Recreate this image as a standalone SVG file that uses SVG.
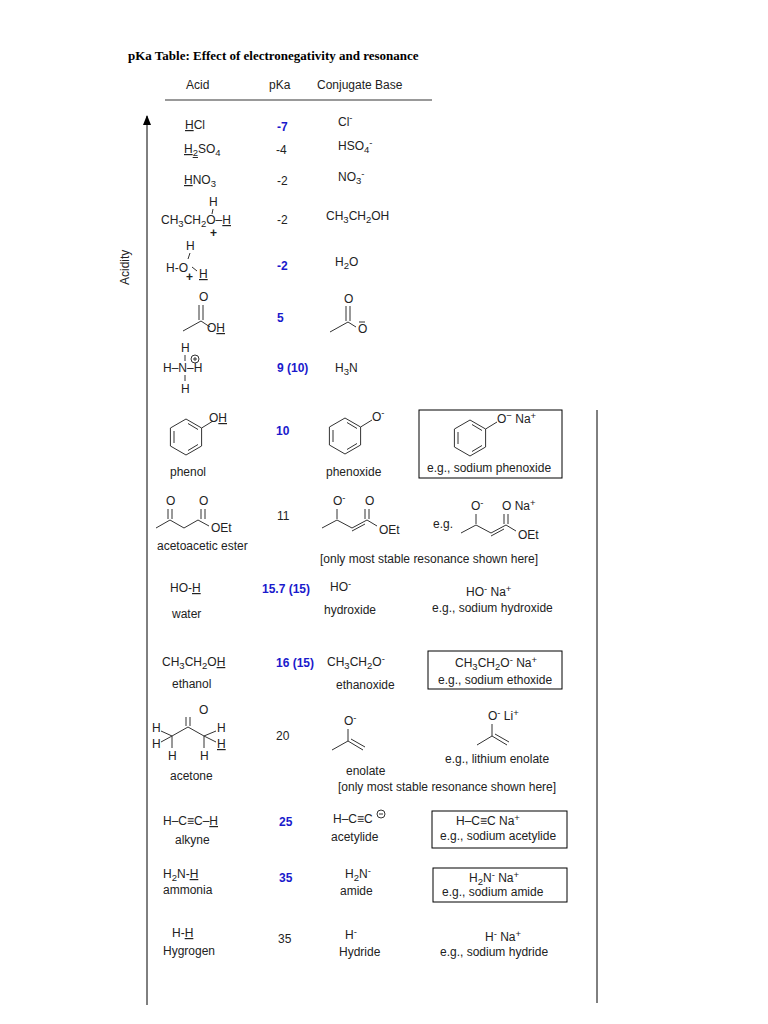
<svg xmlns="http://www.w3.org/2000/svg" xmlns:xlink="http://www.w3.org/1999/xlink" width="768" height="1024" viewBox="0 0 768 1024">
<style>
text{font-family:"Liberation Sans",Arial,sans-serif;font-size:12px;fill:#222}
.t{font-family:"Liberation Serif","Times New Roman",serif;font-weight:bold;font-size:13px;fill:#000}
.b{fill:#1a1acc;font-weight:bold}
.s{font-size:9.5px}
.bd{fill:none;stroke:#333;stroke-width:1}
.box{fill:none;stroke:#000;stroke-width:1}
.u{text-decoration:underline}
</style>
<defs>
<marker id="ah" markerWidth="10" markerHeight="8" refX="9" refY="4" orient="auto" markerUnits="userSpaceOnUse"><path d="M0,0 L10,4 L0,8 Z" fill="#000"/></marker>
<g id="ring" class="bd"><path d="M0,-18 L15.6,-9 L15.6,9 L0,18 L-15.6,9 L-15.6,-9 Z"/><path d="M-12,-6 L-12,6 M2,-13.5 L12,-7.5 M2,13.5 L12,7.5"/><path d="M15.6,-9 L27,-16"/></g>
</defs>
<rect width="768" height="1024" fill="#fff"/>
<text class="t" x="128" y="60">pKa Table: Effect of electronegativity and resonance</text>
<g id="header"><text x="186" y="89">Acid</text><text x="269" y="89">pKa</text><text x="317" y="89">Conjugate Base</text></g>
<g id="connectors">
<line x1="165" y1="100" x2="432" y2="100" stroke="#999" stroke-width="2"/>
<line x1="147" y1="1005" x2="147" y2="116" stroke="#000" stroke-width="1" marker-end="url(#ah)"/>
<line x1="597" y1="410" x2="597" y2="1003" stroke="#000" stroke-width="1"/>
</g>
<text x="0" y="0" transform="translate(129,285) rotate(-90)" font-size="11">Acidity</text>

<g id="hcl"><text x="185" y="129"><tspan class="u">H</tspan>Cl</text><text class="b" x="277" y="131">-7</text><text x="338" y="126">Cl<tspan class="s" dy="-5">-</tspan></text></g>
<g id="h2so4"><text x="184" y="153"><tspan class="u">H<tspan class="s" dy="3">2</tspan></tspan><tspan dy="-3">SO</tspan><tspan class="s" dy="3">4</tspan></text><text x="276" y="154">-4</text><text x="338" y="150">HSO<tspan class="s" dy="3">4</tspan><tspan class="s" dy="-7">-</tspan></text></g>
<g id="hno3"><text x="184" y="184"><tspan class="u">H</tspan>NO<tspan class="s" dy="3">3</tspan></text><text x="277" y="185">-2</text><text x="338" y="181">NO<tspan class="s" dy="3">3</tspan><tspan class="s" dy="-7">-</tspan></text></g>
<g id="etoh2"><text x="209" y="206">H</text><line x1="213" y1="209" x2="212" y2="214" class="bd"/><text x="161" y="224">CH<tspan class="s" dy="3">3</tspan><tspan dy="-3">CH</tspan><tspan class="s" dy="3">2</tspan><tspan dy="-3">O–</tspan><tspan class="u">H</tspan></text><text x="210" y="237" font-size="10" font-weight="bold">+</text><text x="277" y="224">-2</text><text x="326" y="220">CH<tspan class="s" dy="3">3</tspan><tspan dy="-3">CH</tspan><tspan class="s" dy="3">2</tspan><tspan dy="-3">OH</tspan></text></g>
<g id="h3o"><text x="186" y="250">H</text><line x1="190" y1="253" x2="188" y2="259" class="bd"/><text x="166" y="272">H-O</text><line x1="192" y1="267" x2="197" y2="271" class="bd"/><text x="199" y="278" class="u">H</text><text x="186" y="281" font-size="10" font-weight="bold">+</text><text class="b" x="277" y="270">-2</text><text x="335" y="266">H<tspan class="s" dy="3">2</tspan><tspan dy="-3">O</tspan></text></g>
<g id="acetic"><text x="199" y="301">O</text><path class="bd" d="M183,331 L201,321 L210,327 M199,320 L199,305 M203,320 L203,305"/><text x="207" y="332">O<tspan class="u">H</tspan></text><text class="b" x="277" y="322">5</text><text x="344" y="303">O</text><path class="bd" d="M330,332 L348,322 L356,327 M346,321 L346,306 M350,321 L350,306"/><text x="358" y="333">O</text><line x1="359" y1="322" x2="365" y2="322" class="bd"/></g>
<g id="nh4"><text x="181" y="352">H</text><line x1="185" y1="355" x2="185" y2="361" class="bd"/><text x="163" y="372">H–N–H</text><line x1="185" y1="375" x2="185" y2="381" class="bd"/><text x="181" y="393">H</text><circle cx="195" cy="359" r="4" class="bd"/><path class="bd" d="M193,359h4M195,357v4"/><text class="b" x="277" y="372">9 (10)</text><text x="335" y="372">H<tspan class="s" dy="3">3</tspan><tspan dy="-3">N</tspan></text></g>
<g id="phenol"><use xlink:href="#ring" x="186" y="437"/><text x="209" y="422">O<tspan class="u">H</tspan></text><text class="b" x="276" y="435">10</text><use xlink:href="#ring" x="345" y="436"/><text x="372" y="421">O<tspan class="s" dy="-5">-</tspan></text><text x="170" y="476">phenol</text><text x="326" y="476">phenoxide</text>
<rect class="box" x="419" y="410" width="143" height="68"/><use xlink:href="#ring" x="470" y="438"/><text x="497" y="423">O<tspan class="s" dy="-4">−</tspan><tspan dy="4"> Na</tspan><tspan class="s" dy="-4">+</tspan></text><text x="427" y="472">e.g., sodium phenoxide</text></g>
<g id="acac"><text x="166" y="505">O</text><text x="199" y="505">O</text><path class="bd" d="M156,528 L170,520 L184,528 L198,520 L209,526 M168,519 L168,509 M172,519 L172,509 M201,519 L201,509 M205,519 L205,509"/><text x="211" y="532">OEt</text><text x="157" y="550">acetoacetic ester</text><text x="277" y="520">11</text>
<text x="333" y="505">O<tspan class="s" dy="-4">-</tspan></text><text x="365" y="505">O</text><path class="bd" d="M322,528 L337,520 L352,528 L367,520 L377,526 M337,519 L337,509 M352,531 L365,524 M365,519 L365,509 M369,519 L369,509"/><text x="379" y="534">OEt</text><text x="433" y="528">e.g.</text>
<text x="471" y="510">O<tspan class="s" dy="-4">-</tspan></text><text x="502" y="510">O Na<tspan class="s" dy="-4">+</tspan></text><path class="bd" d="M461,533 L476,525 L491,533 L506,525 L516,531 M476,524 L476,514 M491,536 L504,529 M504,524 L504,514 M508,524 L508,514"/><text x="518" y="539">OEt</text><text x="320" y="563">[only most stable resonance shown here]</text></g>
<g id="water"><text x="170" y="592">HO-<tspan class="u">H</tspan></text><text class="b" x="262" y="593">15.7 (15)</text><text x="330" y="591">HO<tspan class="s" dy="-4">-</tspan></text><text x="172" y="618">water</text><text x="324" y="614">hydroxide</text><text x="466" y="596">HO<tspan class="s" dy="-4">-</tspan><tspan dy="4"> Na</tspan><tspan class="s" dy="-4">+</tspan></text><text x="432" y="612">e.g., sodium hydroxide</text></g>
<g id="ethanol"><text x="162" y="666">CH<tspan class="s" dy="3">3</tspan><tspan dy="-3">CH</tspan><tspan class="s" dy="3">2</tspan><tspan dy="-3">O</tspan><tspan class="u">H</tspan></text><text class="b" x="276" y="667">16 (15)</text><text x="327" y="666">CH<tspan class="s" dy="3">3</tspan><tspan dy="-3">CH</tspan><tspan class="s" dy="3">2</tspan><tspan dy="-3">O</tspan><tspan class="s" dy="-4">-</tspan></text><text x="172" y="688">ethanol</text><text x="336" y="689">ethanoxide</text><rect class="box" x="428" y="651" width="134" height="38"/><text x="455" y="667">CH<tspan class="s" dy="3">3</tspan><tspan dy="-3">CH</tspan><tspan class="s" dy="3">2</tspan><tspan dy="-3">O</tspan><tspan class="s" dy="-4">-</tspan><tspan dy="4"> Na</tspan><tspan class="s" dy="-4">+</tspan></text><text x="438" y="684">e.g., sodium ethoxide</text></g>
<g id="acetone"><text x="199" y="714">O</text>
<path class="bd" d="M172,736 L188,727 L204,736 M186,726 L186,717 M190,726 L190,717 M172,736 L161,731 M172,736 L161,742 M172,736 L172,748 M204,736 L216,731 M204,736 L216,742 M204,736 L204,748"/>
<text x="152" y="732">H</text><text x="152" y="748">H</text><text x="168" y="760">H</text><text x="200" y="760">H</text><text x="217" y="732">H</text><text x="217" y="748" class="u">H</text><text x="170" y="780">acetone</text><text x="276" y="740">20</text>
<text x="344" y="725">O<tspan class="s" dy="-4">-</tspan></text><path class="bd" d="M348,729 L348,741 L332,750 M348,741 L363,750 M351,739 L365,747"/><text x="346" y="775">enolate</text><text x="338" y="791">[only most stable resonance shown here]</text>
<text x="488" y="720">O<tspan class="s" dy="-4">-</tspan><tspan dy="4"> Li</tspan><tspan class="s" dy="-4">+</tspan></text><path class="bd" d="M492,724 L492,736 L477,745 M492,736 L507,745 M495,734 L509,742"/><text x="445" y="763">e.g., lithium enolate</text></g>
<g id="alkyne"><text x="163" y="825">H–C≡C–<tspan class="u">H</tspan></text><text class="b" x="279" y="826">25</text><text x="333" y="823">H–C≡C</text><circle cx="381" cy="814" r="4" class="bd"/><path class="bd" d="M379,814h4"/><text x="175" y="844">alkyne</text><text x="331" y="841">acetylide</text><rect class="box" x="432" y="811" width="135" height="37"/><text x="456" y="825">H–C≡C Na<tspan class="s" dy="-4">+</tspan></text><text x="440" y="840">e.g., sodium acetylide</text></g>
<g id="ammonia"><text x="163" y="878">H<tspan class="s" dy="3">2</tspan><tspan dy="-3">N-</tspan><tspan class="u">H</tspan></text><text class="b" x="279" y="882">35</text><text x="345" y="878">H<tspan class="s" dy="3">2</tspan><tspan dy="-3">N</tspan><tspan class="s" dy="-4">-</tspan></text><text x="163" y="894">ammonia</text><text x="340" y="895">amide</text><rect class="box" x="433" y="868" width="134" height="34"/><text x="469" y="882">H<tspan class="s" dy="3">2</tspan><tspan dy="-3">N</tspan><tspan class="s" dy="-4">-</tspan><tspan dy="4"> Na</tspan><tspan class="s" dy="-4">+</tspan></text><text x="442" y="896">e.g., sodium amide</text></g>
<g id="hydrogen"><text x="172" y="937">H-<tspan class="u">H</tspan></text><text x="278" y="943">35</text><text x="345" y="939">H<tspan class="s" dy="-4">-</tspan></text><text x="163" y="955">Hygrogen</text><text x="339" y="956">Hydride</text><text x="485" y="941">H<tspan class="s" dy="-4">-</tspan><tspan dy="4"> Na</tspan><tspan class="s" dy="-4">+</tspan></text><text x="440" y="956">e.g., sodium hydride</text></g>
</svg>
